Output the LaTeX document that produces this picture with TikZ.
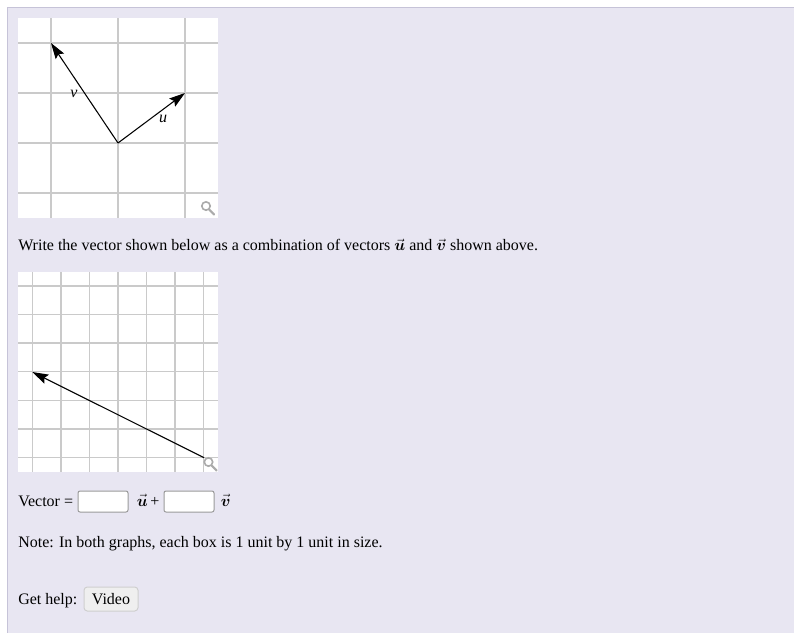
\documentclass[tikz,border=0pt,12pt]{standalone}
\usepackage{fontspec}
\setmainfont{Liberation Serif}
\usepackage{amsmath, amssymb}
\usetikzlibrary{arrows.meta, positioning}

\definecolor{pagebg}{HTML}{E8E6F2}
\definecolor{edgeline}{HTML}{C6C3D8}
\definecolor{gridgray}{HTML}{CACACA}
\definecolor{zoomgray}{HTML}{ABABAB}
\definecolor{btnfill}{HTML}{EFEFEF}
\definecolor{btnline}{HTML}{CFCFCF}
\definecolor{boxline}{HTML}{9A9A9A}

\tikzset{
    gridline/.style={gridgray, line width=1pt},
    vecline/.style={black, line width=0.8pt, -{Stealth[length=12pt, width=7.5pt, inset=2pt]}},
    veclabel/.style={font=\normalsize\itshape, inner sep=0pt},
    txt/.style={anchor=base west, inner sep=0pt, font=\normalsize},
    inbox/.style={draw=boxline, fill=white, rounded corners=1.5pt, line width=0.75pt,
        minimum width=37.5pt, minimum height=15.75pt, inner sep=0pt},
    button/.style={draw=btnline, fill=btnfill, rounded corners=2.5pt, line width=0.75pt,
        minimum width=40.5pt, minimum height=18pt, inner sep=0pt, font=\normalsize}
}

\newcommand{\uvec}{\vec{\boldsymbol{u}}}
\newcommand{\vvec}{\vec{\boldsymbol{v}}}

\begin{document}
\begin{tikzpicture}[x=0.75pt, y=-0.75pt]
    \useasboundingbox (0,0) rectangle (794,633);
    % Page background
    \fill[white] (0,0) rectangle (794,633);
    \fill[pagebg] (7.5,7.5) rectangle (794,633);
    \draw[edgeline, line width=0.75pt] (7.5,633) -- (7.5,7.5) -- (794,7.5);

    % Top graph: vectors u and v
    \fill[white] (18,18) rectangle (218,218);
    \foreach \x in {51,118,185} \draw[gridline] (\x,18) -- (\x,218);
    \foreach \y in {43,93,143,193} \draw[gridline] (18,\y) -- (218,\y);

    \coordinate (origin) at (118,143);
    \coordinate (utip) at (185,93);
    \coordinate (vtip) at (51,43);
    \draw[vecline] (origin) -- (utip);
    \draw[vecline] (origin) -- (vtip);
    \node[veclabel] (ulabel) at (163,119) {u};
    \node[veclabel] (vlabel) at (74,94) {v};

    % Zoom icon
    \draw[zoomgray, line width=1.2pt] (206,206) circle (4.2);
    \draw[zoomgray, line width=1.6pt, line cap=round] (209.2,209.5) -- (214,214.5);

    % Question text
    \node[txt] (ask) at (18,250.5) {Write the vector shown below as a combination of vectors $\uvec$ and $\vvec$ shown above.};

    % Bottom graph: vector to write
    \fill[white] (18,272) rectangle (218,472);
    \foreach \k in {0,...,6} {
        \draw[gridline] ({32.3+28.57*\k},272) -- ({32.3+28.57*\k},472);
        \draw[gridline] (18,{286+28.57*\k}) -- (218,{286+28.57*\k});
    }
    \coordinate (wtail) at (204.1,457.7);
    \coordinate (whead) at (32.3,372);
    \draw[vecline] (wtail) -- (whead);

    % Zoom icon
    \draw[zoomgray, line width=1.2pt] (208.5,462) circle (4.2);
    \draw[zoomgray, line width=1.6pt, line cap=round] (211.7,465.5) -- (216.5,470.5);

    % Answer line
    \node[txt] (veclbl) at (18,506) {Vector =};
    \node[inbox] (boxa) at (103,501.5) {};
    \node[txt] (uterm) at (136.5,506) {$\uvec$};
    \node[txt] (plus) at (150,506) {+};
    \node[inbox] (boxb) at (189,501.5) {};
    \node[txt] (vterm) at (220.5,506) {$\vvec$};

    % Note
    \node[txt] (note) at (18,547) {Note: In both graphs, each box is 1 unit by 1 unit in size.};

    % Help
    \node[txt] (help) at (18,604) {Get help:};
    \node[button] (video) at (111,599) {Video};
\end{tikzpicture}
\end{document}
